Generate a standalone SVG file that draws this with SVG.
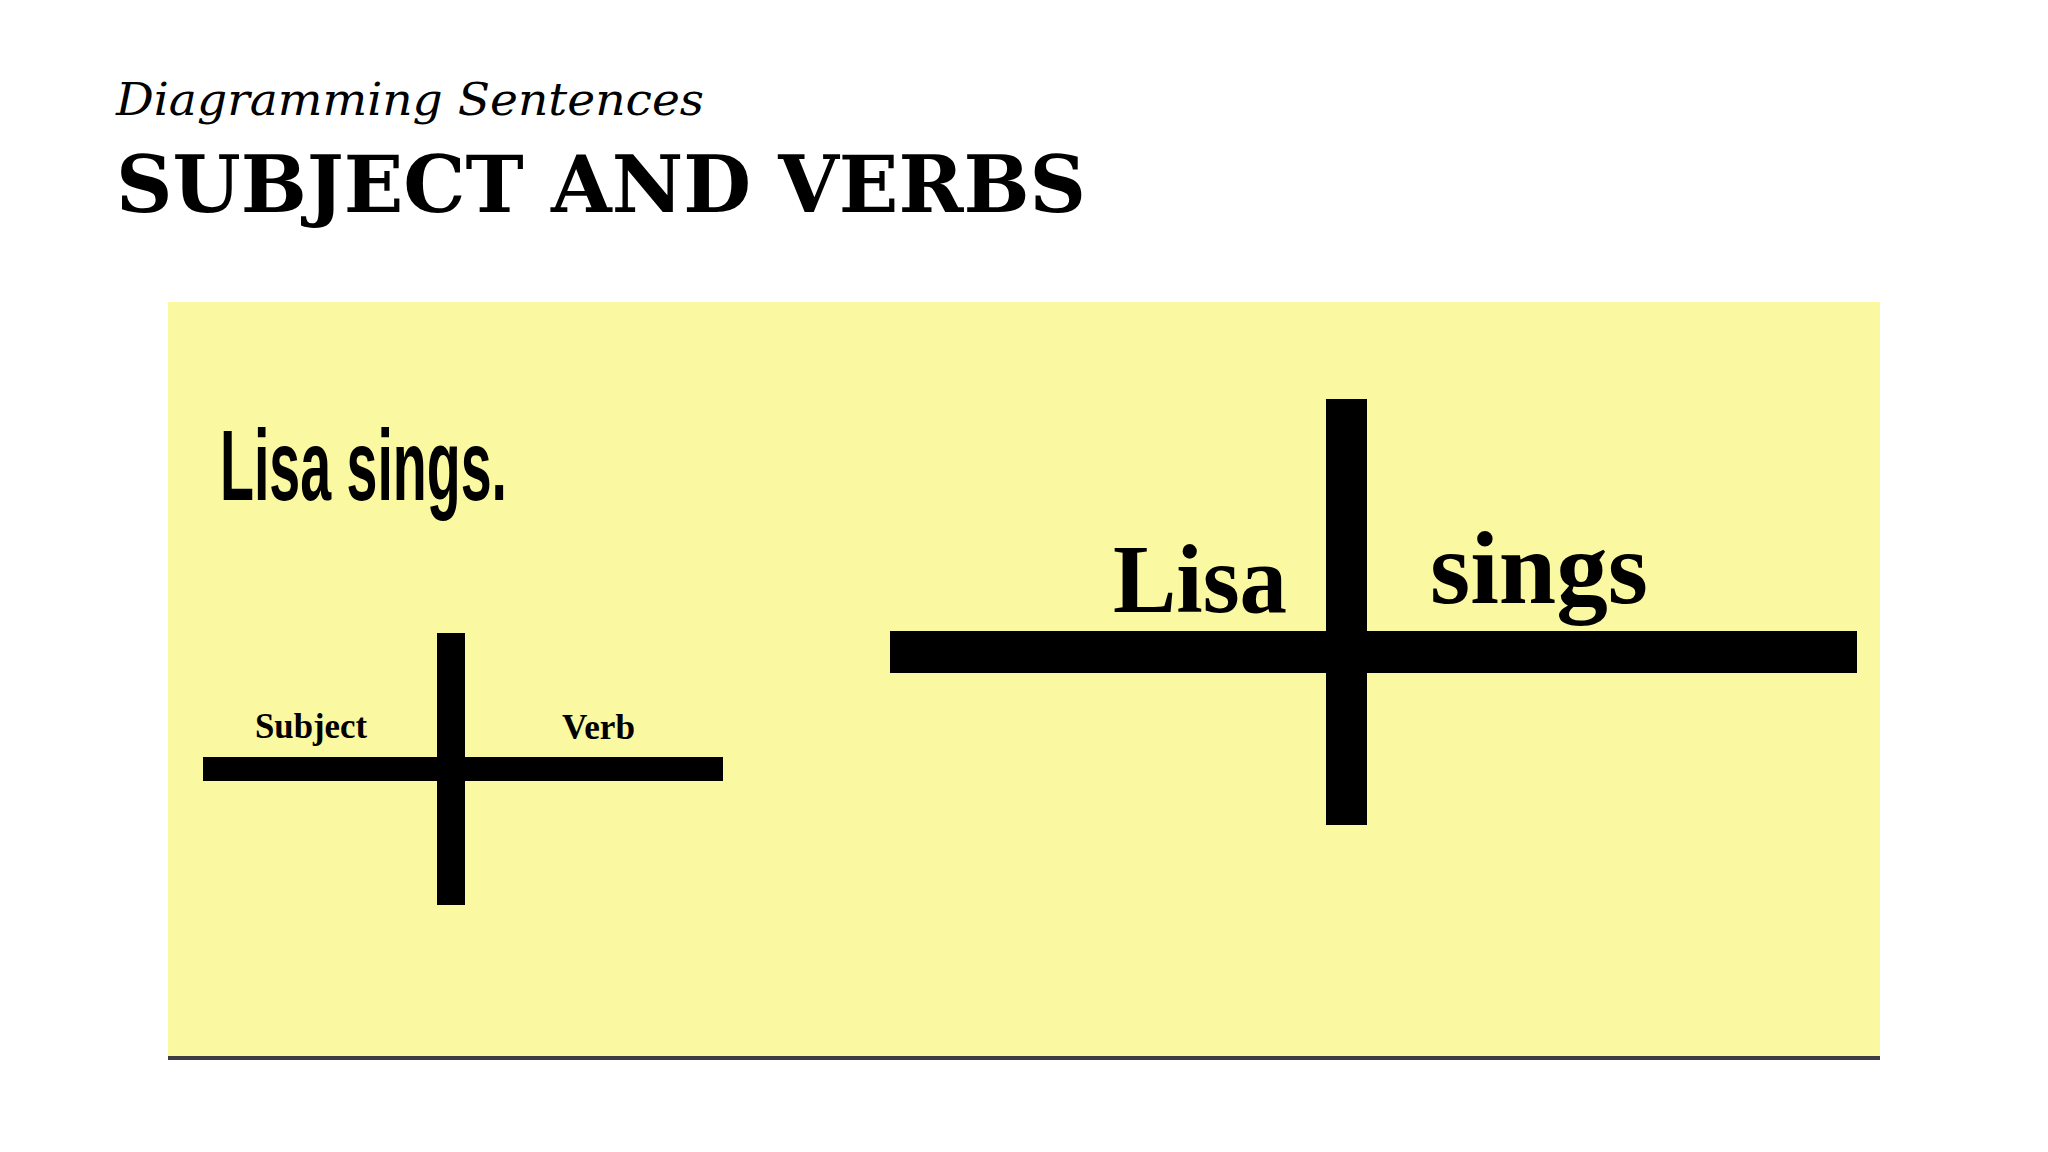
<svg xmlns="http://www.w3.org/2000/svg" width="2048" height="1152" viewBox="0 0 2048 1152">
  <style>
    .bar { fill: #000000; }
    .serifb { font-family: "Liberation Serif", "Times New Roman", serif; font-weight: bold; fill: #000; }
    .slab { font-family: "DejaVu Serif", serif; fill: #000; }
  </style>
  <rect x="0" y="0" width="2048" height="1152" fill="#ffffff"/>

  <g id="header">
    <text id="subtitle" class="slab" x="116" y="115" font-size="44" font-style="italic" textLength="588" lengthAdjust="spacingAndGlyphs">Diagramming Sentences</text>
    <text id="title" class="slab" x="116" y="212" font-size="78" font-weight="bold" textLength="970" lengthAdjust="spacingAndGlyphs">SUBJECT AND VERBS</text>
  </g>

  <g id="panel">
    <rect x="168" y="302" width="1712" height="754" fill="#FAF8A0"/>
    <rect x="168" y="1056" width="1712" height="4" fill="#3c3c44"/>
  </g>

  <g id="sentence">
    <text x="220" y="500" font-family="Liberation Sans, Arial, sans-serif" font-weight="bold" font-size="100" textLength="287" lengthAdjust="spacingAndGlyphs">Lisa sings.</text>
  </g>

  <g id="connectors">
    <g id="small-diagram-lines">
      <rect class="bar" x="203" y="757" width="520" height="24"/>
      <rect class="bar" x="437" y="633" width="28" height="272"/>
    </g>
    <g id="big-diagram-lines">
      <rect class="bar" x="890" y="631" width="967" height="42"/>
      <rect class="bar" x="1326" y="399" width="41" height="426"/>
    </g>
  </g>

  <g id="small-subject">
    <text class="serifb" x="255" y="738" font-size="36" textLength="112" lengthAdjust="spacingAndGlyphs">Subject</text>
  </g>
  <g id="small-verb">
    <text class="serifb" x="562" y="739" font-size="36" textLength="73" lengthAdjust="spacingAndGlyphs">Verb</text>
  </g>

  <g id="big-subject">
    <text class="serifb" x="1113" y="612" font-size="97" textLength="174" lengthAdjust="spacingAndGlyphs">Lisa</text>
  </g>
  <g id="big-verb">
    <text class="serifb" x="1430" y="603" font-size="104" textLength="218" lengthAdjust="spacingAndGlyphs">sings</text>
  </g>
</svg>
